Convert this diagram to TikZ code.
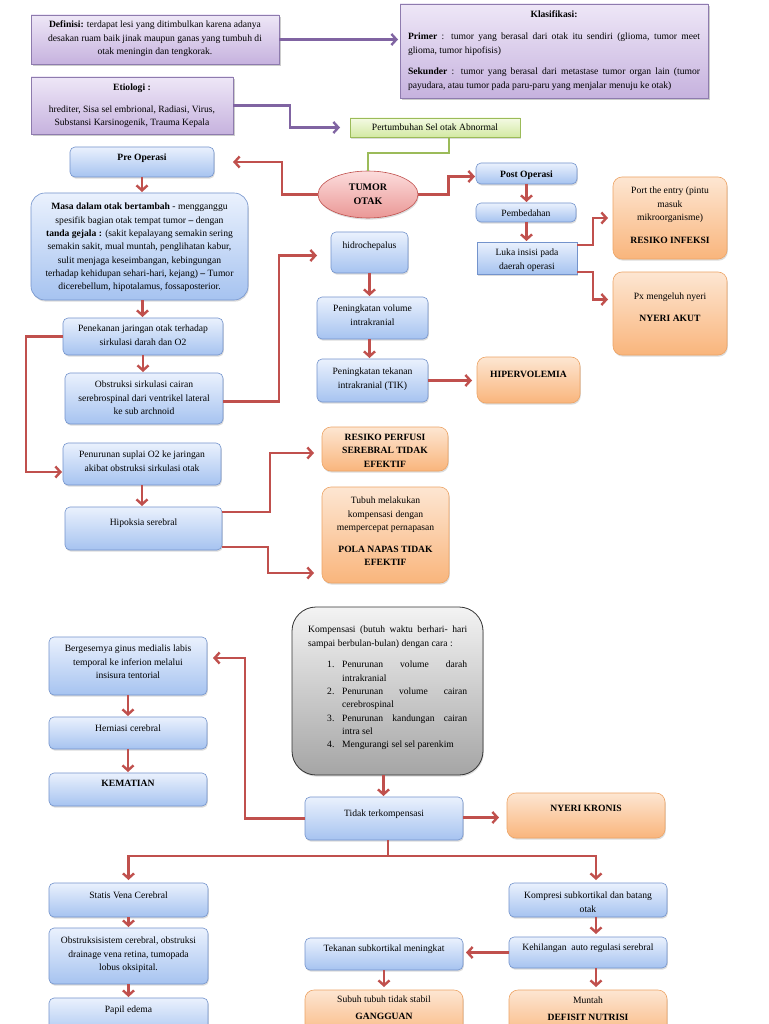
\documentclass[tikz,border=0pt]{standalone}
\usepackage{fontspec}
\setmainfont{Liberation Serif}
\usetikzlibrary{arrows.meta,shadows,calc,shapes.geometric}
\definecolor{redc}{HTML}{C0504D}
\definecolor{purc}{HTML}{8064A2}
\definecolor{grnc}{HTML}{9BBB59}
\definecolor{bluet}{HTML}{EAF1FD}
\definecolor{blueb}{HTML}{A6C3F0}
\definecolor{bluel}{HTML}{7393CC}
\definecolor{oranget}{HTML}{FDE6D2}
\definecolor{orangeb}{HTML}{F9B57C}
\definecolor{orangel}{HTML}{EDA465}
\definecolor{purt}{HTML}{EEE7F7}
\definecolor{purb}{HTML}{C6B2DE}
\definecolor{purl}{HTML}{8E7BAE}
\definecolor{grnt}{HTML}{F4FAE4}
\definecolor{grnb}{HTML}{D3E9A3}
\definecolor{pinkt}{HTML}{FCDCDC}
\definecolor{pinkb}{HTML}{EA9896}
\definecolor{grayt}{HTML}{F3F3F3}
\definecolor{grayb}{HTML}{A5A5A5}
\tikzset{
  base/.style={draw, line width=0.6pt, inner sep=0pt, outer sep=0pt},
  shad/.style={drop shadow={opacity=0.28, shadow xshift=0.8pt, shadow yshift=-1.6pt}},
  bluebox/.style={base, draw=bluel, top color=bluet, bottom color=blueb, rounded corners=5pt, shad},
  orangebox/.style={base, draw=orangel, top color=oranget, bottom color=orangeb, rounded corners=9pt, shad},
  purbox/.style={base, draw=purl, top color=purt, bottom color=purb, drop shadow={opacity=0.4, shadow xshift=2pt, shadow yshift=-2.5pt}},
  grnbox/.style={base, draw=grnc, top color=grnt, bottom color=grnb, shad},
  graybox/.style={base, draw=black!80, line width=0.8pt, top color=grayt, bottom color=grayb, rounded corners=24pt, shad},
  txt/.style={align=center, inner sep=0pt, font=\fontsize{9.6}{13.3}\selectfont},
  redarr/.style={draw=redc, line width=2.4pt, line join=miter, -{Straight Barb[length=5pt,width=11pt]}},
  purarr/.style={draw=purc, line width=2.4pt, line join=miter, -{Straight Barb[length=5pt,width=11pt]}},
  grnln/.style={draw=grnc, line width=2.6pt},
}
% name, style, x, y, w, h, text-top y, text
\newcommand\bx[8]{%
  \node[#2, anchor=north west, minimum width=#5pt, minimum height=#6pt] (#1) at (#3,#4) {};
  \node[txt, anchor=north] (#1-t) at ({#3+#5/2},{#7+2}) {#8};
}
\begin{document}
\begin{tikzpicture}[x=1pt,y=-1pt]
\useasboundingbox (0,0) rectangle (768,1024);
\clip (0,0) rectangle (768,1024);
\fill[white] (0,0) rectangle (768,1024);

% ---------- top section ----------
\bx{defin}{purbox}{31}{15}{248}{49}{19}{\textbf{Definisi:} terdapat lesi yang ditimbulkan karena adanya\\desakan ruam baik jinak maupun ganas yang tumbuh di\\otak meningin dan tengkorak.}
\bx{klas}{purbox}{400}{4}{308}{94}{9}{\makebox[292pt][c]{\textbf{Klasifikasi:}}\\[8.5pt]
\makebox[292pt][s]{\textbf{Primer} : tumor yang berasal dari otak itu sendiri (glioma, tumor meet}\\
\makebox[292pt][l]{glioma, tumor hipofisis)}\\[8.5pt]
\makebox[292pt][s]{\textbf{Sekunder} : tumor yang berasal dari metastase tumor organ lain (tumor}\\
\makebox[292pt][l]{payudara, atau tumor pada paru-paru yang menjalar menuju ke otak)}}
\bx{etio}{purbox}{31}{77}{202}{57}{82}{\textbf{Etiologi :}\\[8.5pt]hrediter, Sisa sel embrional, Radiasi, Virus,\\Substansi Karsinogenik, Trauma Kepala}
\bx{pert}{grnbox}{350}{118}{170}{19}{122}{Pertumbuhan Sel otak Abnormal}

\node[ellipse, draw=redc, line width=0.6pt, top color=pinkt, bottom color=pinkb, minimum width=100pt, minimum height=47pt, inner sep=0pt, align=center, font=\fontsize{10}{14}\selectfont\bfseries, shad] (tumor) at (368,194.5) {TUMOR\\OTAK};

% ---------- pre operasi column ----------
\bx{preop}{bluebox}{70}{147}{144}{30}{152}{\textbf{Pre Operasi}}
\bx{masa}{bluebox, rounded corners=14pt}{31}{193}{217}{107}{201}{\textbf{Masa dalam otak bertambah} - mengganggu\\spesifik bagian otak tempat tumor \textbf{–} dengan\\\textbf{tanda gejala :} (sakit kepalayang semakin sering\\semakin sakit, mual muntah, penglihatan kabur,\\sulit menjaga keseimbangan, kebingungan\\terhadap kehidupan sehari-hari, kejang) \textbf{–} Tumor\\dicerebellum, hipotalamus, fossaposterior.}
\bx{penek}{bluebox}{63}{318}{160}{37}{323}{Penekanan jaringan otak terhadap\\sirkulasi darah dan O2}
\bx{obstr}{bluebox}{65}{373}{158}{51}{379}{Obstruksi sirkulasi cairan\\serebrospinal dari ventrikel lateral\\ke sub archnoid}
\bx{penur}{bluebox}{63}{443}{158}{42}{449}{Penurunan suplai O2 ke jaringan\\akibat obstruksi sirkulasi otak}
\bx{hipok}{bluebox}{65}{507}{157}{43}{517}{Hipoksia serebral}

% ---------- middle column ----------
\bx{hidro}{bluebox}{331}{232}{77}{41}{240}{hidrochepalus}
\bx{volume}{bluebox}{317}{297}{111}{42}{303}{Peningkatan volume\\intrakranial}
\bx{tekanan}{bluebox}{317}{359}{111}{43}{366}{Peningkatan tekanan\\intrakranial (TIK)}
\bx{hiperv}{orangebox}{477}{357}{103}{46}{369}{\textbf{HIPERVOLEMIA}}
\node[orangebox, anchor=north west, minimum width=126pt, minimum height=44pt] (perf) at (322,427) {};
\begin{scope}
\clip (322,427) rectangle (448,467);
\node[txt, anchor=north] (perf-t) at (385,434) {\textbf{RESIKO PERFUSI}\\\textbf{SEREBRAL TIDAK}\\\textbf{EFEKTIF}};
\end{scope}
\bx{pola}{orangebox}{322}{487}{127}{96}{495}{Tubuh melakukan\\kompensasi dengan\\mempercepat pernapasan\\[8.5pt]\textbf{POLA NAPAS TIDAK}\\\textbf{EFEKTIF}}

% ---------- post operasi column ----------
\bx{postop}{bluebox}{476}{163}{101}{21}{169}{\textbf{Post Operasi}}
\bx{pembed}{bluebox}{476}{203}{100}{19}{208}{Pembedahan}
\bx{luka}{bluebox, sharp corners}{477}{242}{100}{32}{247}{Luka insisi pada\\daerah operasi}
\bx{infeksi}{orangebox}{613}{177}{114}{82}{185}{Port the entry (pintu\\masuk\\mikroorganisme)\\[9.5pt]\textbf{RESIKO INFEKSI}}
\bx{nyeriakut}{orangebox}{613}{272}{114}{83}{291}{Px mengeluh nyeri\\[8.5pt]\textbf{NYERI AKUT}}

% ---------- lower section ----------
\node[graybox, anchor=north west, minimum width=191pt, minimum height=168pt] (komp) at (292,607) {};
\node[txt, anchor=north west, align=left] (komp-t) at (308,626) {%
\makebox[159pt][s]{Kompensasi (butuh waktu berhari- hari}\\
sampai berbulan-bulan) dengan cara :\\[8.5pt]
\hspace*{19pt}\makebox[15pt][l]{1.}\makebox[125pt][s]{Penurunan volume darah}\\
\hspace*{34pt}intrakranial\\
\hspace*{19pt}\makebox[15pt][l]{2.}\makebox[125pt][s]{Penurunan volume cairan}\\
\hspace*{34pt}cerebrospinal\\
\hspace*{19pt}\makebox[15pt][l]{3.}\makebox[125pt][s]{Penurunan kandungan cairan}\\
\hspace*{34pt}intra sel\\
\hspace*{19pt}\makebox[15pt][l]{4.}Mengurangi sel sel parenkim};
\bx{tidak}{bluebox}{305}{797}{158}{43}{808}{Tidak terkompensasi}
\bx{kronis}{orangebox}{507}{793}{158}{45}{803}{\textbf{NYERI KRONIS}}
\bx{berg}{bluebox}{49}{637}{158}{58}{643}{Bergesernya ginus medialis labis\\temporal ke inferion melalui\\insisura tentorial}
\bx{hern}{bluebox}{49}{717}{158}{32}{723}{Herniasi cerebral}
\bx{kemat}{bluebox}{49}{773}{158}{33}{778}{\textbf{KEMATIAN}}
\bx{statis}{bluebox}{49}{883}{159}{34}{890}{Statis Vena Cerebral}
\bx{obsis}{bluebox}{49}{928}{159}{56}{935}{Obstruksisistem cerebral, obstruksi\\drainage vena retina, tumopada\\lobus oksipital.}
\bx{papil}{bluebox}{49}{998}{159}{40}{1004}{Papil edema}
\bx{kompresi}{bluebox}{509}{883}{158}{34}{890}{Kompresi subkortikal dan batang\\otak}
\bx{kehil}{bluebox}{509}{937}{158}{31}{942}{Kehilangan\ \ auto regulasi serebral}
\bx{teks}{bluebox}{305}{938}{158}{32}{943}{Tekanan subkortikal meningkat}
\bx{subuh}{orangebox}{305}{990}{158}{50}{994}{Subuh tubuh tidak stabil\\[3pt]\textbf{GANGGUAN}}
\bx{muntah}{orangebox}{509}{990}{158}{50}{995}{Muntah\\[3pt]\textbf{DEFISIT NUTRISI}}

% ---------- helper coordinates ----------
\coordinate (masaS) at ($(masa.south)+(3,0)$);
\coordinate (kompS) at ($(komp.south)+(-4,0)$);
\coordinate (tidakE) at ($(tidak.east)+(0,-1)$);
\coordinate (tidakS) at ($(tidak.south)+(4,0)$);
\coordinate (kompresiN) at ($(kompresi.north)+(8,0)$);
\coordinate (kompresiS) at ($(kompresi.south)+(8,0)$);
\coordinate (kehilS) at ($(kehil.south)+(8,0)$);

% ---------- connectors ----------
\draw[purarr, shorten >=2pt] (defin.east) -- (defin.east -| klas.west);
\draw[purarr, shorten >=10pt] (etio.east) -- ++(57,0) |- (pert.west);
\draw[grnln] ($(pert.south)+(14,0)$) -- ++(0,16) -| (tumor.north);
\draw[redarr, shorten >=19pt] (tumor.west) -- ++(-36,0) |- (preop.east);
\draw[redarr, shorten >=1pt] (tumor.east) -- ++(30,0) |- ($(postop.west)+(0,3)$);

\draw[redarr, shorten >=1pt] (preop.south) -- (preop.south |- masa.north);
\draw[redarr, shorten >=1pt] (masaS) -- (masaS |- penek.north);
\draw[redarr, shorten >=1pt] (penek.south) -- (penek.south |- obstr.north);
\draw[redarr, shorten >=14pt] ($(obstr.east)+(0,3)$) -- ++(56,0) |- ($(hidro.west)+(0,3)$);
\draw[redarr, shorten >=1pt] (penek.west) -- ++(-37,0) |- ($(penur.west)+(0,8)$);
\draw[redarr, shorten >=1pt] (penur.south) -- (penur.south |- hipok.north);
\draw[redarr, shorten >=8pt] ($(hipok.north east)+(0,5)$) -- ++(48,0) |- ($(perf.west)+(0,4)$);
\draw[redarr, shorten >=8pt] ($(hipok.south east)+(0,-3)$) -- ++(46,0) |- ($(pola.west)+(0,38)$);

\draw[redarr, shorten >=1pt] (hidro.south) -- (hidro.south |- volume.north);
\draw[redarr, shorten >=1pt] (hidro.south |- volume.south) -- (hidro.south |- tekanan.north);
\draw[redarr, shorten >=5pt] (tekanan.east) -- (tekanan.east -| hiperv.west);

\draw[redarr, shorten >=1pt] (postop.south) -- (postop.south |- pembed.north);
\draw[redarr, shorten >=1pt] (postop.south |- pembed.south) -- (postop.south |- luka.north);
\draw[redarr, shorten >=5pt] ($(luka.north east)+(0,3)$) -- ++(16,0) |- (infeksi.west);
\draw[redarr, shorten >=5pt] ($(luka.south east)+(0,-2)$) -- ++(16,0) |- ($(nyeriakut.west)+(0,-14)$);

\draw[redarr, shorten >=1pt] (kompS) -- (kompS |- tidak.north);
\draw[redarr, shorten >=8pt] (tidakE) -- (tidakE -| kronis.west);
\draw[redarr, shorten >=6pt] (tidak.west) -- ++(-60,0) |- ($(berg.east)+(0,-8)$);
\draw[redarr, shorten >=1pt] (berg.south) -- (berg.south |- hern.north);
\draw[redarr, shorten >=1pt] (hern.south) -- (hern.south |- kemat.north);
\draw[redarr, shorten >=3pt] (tidakS) -- ++(0,16) -| (statis.north);
\draw[redarr, shorten >=3pt] (tidakS) -- ++(0,16) -| (kompresiN);
\draw[redarr, shorten >=1pt] (statis.south) -- (statis.south |- obsis.north);
\draw[redarr, shorten >=1pt] (obsis.south) -- (obsis.south |- papil.north);
\draw[redarr, shorten >=3pt] (kompresiS) -- (kompresiS |- kehil.north);
\draw[redarr, shorten >=3pt] (kehil.west) -- (kehil.west -| teks.east);
\draw[redarr, shorten >=3pt] (teks.south) -- (teks.south |- subuh.north);
\draw[redarr, shorten >=3pt] (kehilS) -- (kehilS |- muntah.north);
\end{tikzpicture}
\end{document}
